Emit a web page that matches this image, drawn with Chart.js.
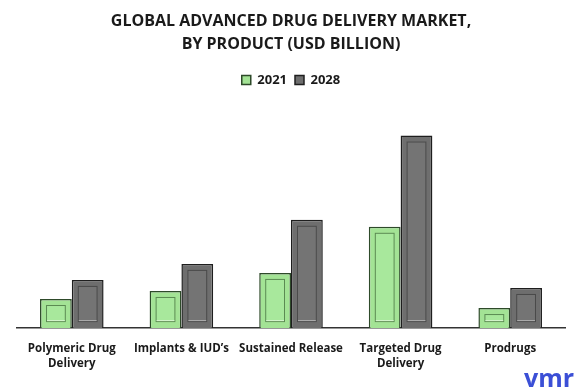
<!DOCTYPE html>
<html>
<head>
<meta charset="utf-8">
<script src="https://cdn.jsdelivr.net/npm/chart.js@4"></script>
<style>
  html, body { margin: 0; padding: 0; background: #fff; }
  #wrap { width: 577px; height: 392px; position: relative; }
</style>
</head>
<body>
<div id="wrap"><canvas id="chart" width="577" height="392"></canvas></div>
<script>
const categories = [['Polymeric Drug', 'Delivery'], 'Implants & IUD\u2019s', 'Sustained Release', ['Targeted Drug', 'Delivery'], 'Prodrugs'];
const values2021 = [29, 37, 55, 101, 20];
const values2028 = [48, 64, 108, 192, 40];

// inner bevel panel drawn on top of every bar
const bevel = {
    id: 'bevel',
    afterDatasetsDraw(chart) {
        const ctx = chart.ctx;
        chart.data.datasets.forEach((ds, i) => {
            const meta = chart.getDatasetMeta(i);
            meta.data.forEach(bar => {
                const left = bar.x - bar.width / 2;
                const top = bar.y;
                const bottom = bar.base;
                const inset = 6;
                const w = bar.width - inset * 2;
                const h = bottom - top - inset * 2;
                if (h <= 0) return;
                ctx.save();
                ctx.fillStyle = ds.innerColor;
                ctx.fillRect(left + inset, top + inset, w, h);
                ctx.strokeStyle = ds.innerEdge;
                ctx.lineWidth = 1;
                ctx.strokeRect(left + inset + 0.5, top + inset + 0.5, w - 1, h - 1);
                ctx.strokeStyle = ds.highlight;
                ctx.beginPath();
                ctx.moveTo(left + inset + 1, top + inset + h - 1.5);
                ctx.lineTo(left + inset + w - 1, top + inset + h - 1.5);
                ctx.stroke();
                ctx.restore();
            });
        });
    },
    afterDraw(chart) {
        const ctx = chart.ctx;
        ctx.save();
        ctx.fillStyle = '#3b4fd6';
        ctx.font = 'bold 25px "Open Sans"';
        ctx.textAlign = 'left';
        ctx.textBaseline = 'alphabetic';
        ctx.fillText('vmr', 524, 387);
        ctx.restore();
    }
};

new Chart(document.getElementById('chart').getContext('2d'), {
    type: 'bar',
    data: {
        labels: categories,
        datasets: [{
            label: '2021',
            data: values2021,
            backgroundColor: '#a3e395',
            borderColor: '#2e4a2a',
            borderWidth: 1.5,
            innerColor: '#a8e89c',
            innerEdge: '#5b8a52',
            highlight: '#d8f5d0',
            categoryPercentage: 0.58,
            barPercentage: 1
        }, {
            label: '2028',
            data: values2028,
            backgroundColor: '#6e6e6e',
            borderColor: '#1e1e1e',
            borderWidth: 1.5,
            innerColor: '#747474',
            innerEdge: '#4a4a4a',
            highlight: '#b0b0b0',
            categoryPercentage: 0.58,
            barPercentage: 1
        }]
    },
    options: {
        responsive: false,
        animation: false,
        layout: { padding: { left: 17, right: 12, top: 0, bottom: 8 } },
        scales: {
            x: {
                grid: { display: false, drawTicks: false },
                border: { display: true, color: '#333', width: 1.5 },
                ticks: {
                    color: '#1a1a1a',
                    font: { family: '"Open Sans"', weight: 'bold', size: 11.5, lineHeight: 1.3 },
                    padding: 13,
                    maxRotation: 0,
                    autoSkip: false
                }
            },
            y: {
                display: false,
                beginAtZero: true,
                max: 231
            }
        },
        plugins: {
            title: {
                display: true,
                text: ['GLOBAL ADVANCED DRUG DELIVERY MARKET,', 'BY PRODUCT (USD BILLION)'],
                color: '#1a1a1a',
                font: { family: '"Open Sans"', weight: 'bold', size: 16, lineHeight: 1.45 },
                padding: { top: 10, bottom: 9 }
            },
            legend: {
                display: true,
                labels: {
                    color: '#1a1a1a',
                    font: { family: '"Open Sans"', weight: 'bold', size: 13 },
                    boxWidth: 9,
                    boxHeight: 9,
                    padding: 8
                }
            },
            tooltip: { enabled: false }
        }
    },
    plugins: [bevel]
});
</script>
</body>
</html>
